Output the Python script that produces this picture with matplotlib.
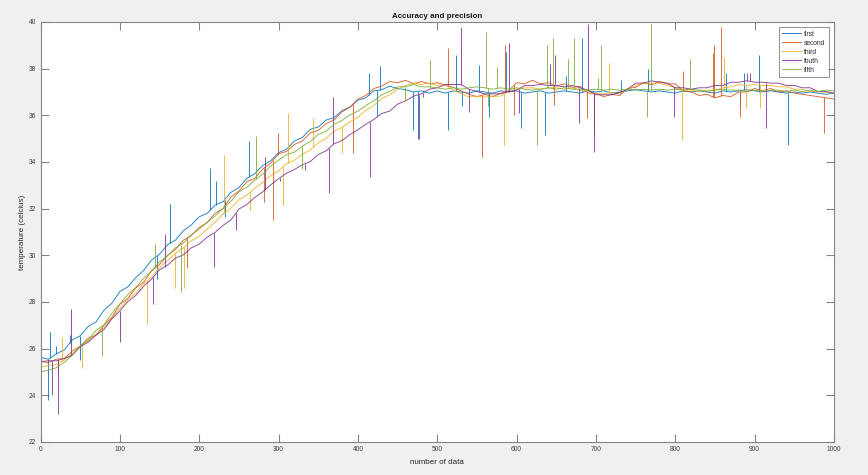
import numpy as np
import matplotlib
matplotlib.use("Agg")
import matplotlib.pyplot as plt

plt.rcParams['font.family'] = ['Liberation Sans', 'DejaVu Sans']

# ---------------- data ----------------
sample_x = list(range(0, 1001, 10))

first = [25.62, 25.55, 25.78, 25.95, 26.38, 26.55, 26.95, 27.15, 27.65, 27.95,
         28.45, 28.65, 29.05, 29.35, 29.80, 30.05, 30.45, 30.65, 31.05, 31.30,
         31.65, 31.80, 32.15, 32.30, 32.70, 32.90, 33.30, 33.50, 33.85, 34.05,
         34.40, 34.55, 34.90, 35.05, 35.40, 35.50, 35.80, 35.90, 36.20, 36.35,
         36.65, 36.75, 37.05, 37.10, 37.25, 37.15, 37.10, 37.00, 37.05, 36.95,
         37.05, 36.95, 37.05, 37.00, 36.95, 37.05, 37.00, 36.95, 37.05, 37.00,
         37.05, 36.95, 37.00, 37.05, 36.95, 37.00, 37.05, 37.00, 36.95, 37.05,
         37.00, 37.05, 36.95, 37.00, 37.05, 37.10, 37.05, 37.00, 37.05, 37.00,
         36.95, 37.05, 37.00, 37.05, 37.00, 36.95, 37.05, 37.00, 37.05, 37.10,
         37.05, 37.00, 37.05, 37.00, 36.95, 37.00, 36.95, 37.00, 36.95, 36.90,
         36.95]

second = [25.45, 25.40, 25.55, 25.58, 25.90, 26.10, 26.45, 26.58, 27.00, 27.35,
          27.90, 28.15, 28.60, 28.85, 29.35, 29.60, 30.00, 30.25, 30.65, 30.85,
          31.20, 31.40, 31.80, 32.00, 32.50, 32.75, 33.15, 33.30, 33.70, 33.95,
          34.35, 34.45, 34.75, 34.90, 35.25, 35.35, 35.65, 35.80, 36.15, 36.35,
          36.70, 36.85, 37.15, 37.25, 37.45, 37.40, 37.50, 37.35, 37.45, 37.35,
          37.40, 37.30, 37.20, 37.05, 36.90, 36.80, 36.90, 36.80, 36.95, 37.05,
          37.40, 37.35, 37.50, 37.35, 37.40, 37.25, 37.35, 37.20, 37.25, 36.95,
          36.95, 36.80, 36.90, 36.85, 37.15, 37.20, 37.40, 37.30, 37.45, 37.35,
          37.35, 37.05, 37.00, 36.85, 36.90, 36.75, 36.85, 36.80, 37.00, 37.00,
          37.15, 37.05, 37.15, 37.00, 37.05, 36.95, 36.90, 36.85, 36.80, 36.75,
          36.70]

third = [25.20, 25.28, 25.32, 25.52, 25.78, 26.12, 26.32, 26.62, 26.88, 27.32,
         27.72, 28.12, 28.38, 28.78, 29.08, 29.48, 29.78, 30.08, 30.32, 30.62,
         30.82, 31.12, 31.42, 31.78, 32.02, 32.38, 32.58, 32.88, 33.12, 33.42,
         33.62, 33.92, 34.08, 34.32, 34.52, 34.82, 35.02, 35.32, 35.48, 35.72,
         35.92, 36.22, 36.42, 36.72, 36.88, 37.12, 37.28, 37.38, 37.32, 37.38,
         37.28, 37.32, 37.08, 36.92, 36.78, 36.82, 36.78, 36.82, 36.82, 37.02,
         37.12, 37.18, 37.18, 37.12, 37.18, 37.18, 37.12, 37.18, 37.08, 37.02,
         36.92, 36.92, 36.98, 36.92, 37.12, 37.28, 37.38, 37.38, 37.38, 37.28,
         37.18, 37.08, 37.08, 37.02, 37.08, 37.08, 37.18, 37.22, 37.32, 37.28,
         37.32, 37.28, 37.28, 37.22, 37.22, 37.12, 37.12, 37.02, 37.02, 36.98,
         36.95]

fouth = [25.45, 25.48, 25.48, 25.58, 25.72, 26.08, 26.28, 26.58, 26.82, 27.28,
         27.62, 28.02, 28.28, 28.68, 28.98, 29.38, 29.58, 29.88, 30.02, 30.32,
         30.48, 30.78, 30.98, 31.28, 31.52, 31.98, 32.18, 32.48, 32.72, 33.02,
         33.28, 33.52, 33.68, 33.88, 34.02, 34.32, 34.48, 34.78, 34.92, 35.18,
         35.38, 35.62, 35.82, 36.08, 36.18, 36.48, 36.62, 36.82, 36.92, 37.12,
         37.18, 37.32, 37.32, 37.32, 37.12, 37.02, 36.92, 36.92, 36.92, 37.02,
         37.08, 37.28, 37.28, 37.32, 37.28, 37.28, 37.22, 37.28, 37.18, 37.08,
         36.88, 36.88, 36.88, 36.98, 37.12, 37.38, 37.38, 37.48, 37.42, 37.38,
         37.18, 37.18, 37.12, 37.18, 37.18, 37.28, 37.28, 37.42, 37.42, 37.48,
         37.42, 37.42, 37.38, 37.38, 37.28, 37.28, 37.18, 37.18, 37.02, 37.02,
         36.95]

fifth = [25.00, 25.08, 25.18, 25.42, 25.72, 26.12, 26.38, 26.78, 27.02, 27.52,
         27.92, 28.32, 28.62, 29.02, 29.32, 29.72, 29.98, 30.32, 30.52, 30.88,
         31.12, 31.42, 31.68, 32.02, 32.32, 32.72, 32.92, 33.22, 33.48, 33.82,
         34.08, 34.32, 34.42, 34.68, 34.88, 35.18, 35.32, 35.62, 35.78, 36.02,
         36.18, 36.42, 36.62, 36.88, 37.02, 37.22, 37.22, 37.32, 37.22, 37.22,
         37.18, 37.12, 37.18, 37.12, 37.18, 37.22, 37.18, 37.12, 37.18, 37.12,
         37.18, 37.12, 37.08, 37.12, 37.18, 37.12, 37.18, 37.12, 37.12, 37.08,
         37.12, 37.08, 37.12, 37.08, 37.12, 37.08, 37.12, 37.08, 37.12, 37.08,
         37.12, 37.08, 37.12, 37.08, 37.02, 37.08, 37.12, 37.08, 37.08, 37.02,
         37.08, 37.02, 37.08, 37.08, 37.02, 37.08, 37.02, 37.08, 37.02, 37.08,
         37.05]

# single-sample outliers (sample index, reading)
first_spike_x = [10, 12, 19, 37, 50, 147, 163, 214, 221, 232, 263, 414, 424, 428,
                 470, 476, 514, 523, 531, 553, 565, 587, 606, 636, 662, 683, 731,
                 765, 864, 881, 887, 906, 942]
first_spike_y = [23.8, 26.7, 26.1, 26.6, 25.5, 29.0, 32.2, 33.73, 33.2, 31.65, 34.9,
                 37.8, 35.95, 38.1, 35.37, 35.0, 35.37, 38.6, 36.4, 38.17, 35.94,
                 38.7, 35.44, 35.16, 37.7, 39.3, 37.5, 38.0, 37.8, 36.3, 37.8, 38.6,
                 34.73]

second_spike_x = [22, 185, 282, 293, 299, 394, 513, 556, 586, 597, 647, 689, 698,
                  810, 847, 849, 858, 882, 987]
second_spike_y = [25.0, 29.45, 32.3, 31.5, 35.23, 34.4, 38.9, 34.23, 39.0, 36.0,
                  36.44, 35.87, 35.16, 37.9, 38.66, 39.0, 39.8, 35.94, 35.23]

third_spike_x = [27, 52, 134, 170, 181, 231, 264, 306, 312, 344, 380, 584, 717,
                 809, 861, 889, 907]
third_spike_y = [26.5, 25.15, 27.05, 28.6, 28.6, 34.3, 31.95, 32.15, 36.1, 35.9,
                 34.37, 34.73, 38.23, 34.94, 38.5, 36.3, 36.3]

fouth_spike_x = [15, 22, 38, 100, 142, 157, 219, 246, 283, 302, 333, 364, 369,
                 415, 477, 482, 530, 540, 590, 603, 642, 648, 679, 690, 697, 798,
                 890, 894, 914]
fouth_spike_y = [24.0, 23.2, 27.7, 26.3, 27.9, 30.9, 29.5, 31.1, 34.23, 33.2, 33.65,
                 32.65, 36.8, 33.35, 35.0, 36.8, 39.8, 36.16, 39.09, 36.1, 38.2,
                 38.6, 35.66, 39.9, 34.44, 35.94, 37.8, 37.8, 35.45]

fifth_spike_x = [78, 144, 177, 272, 330, 459, 491, 561, 564, 575, 626, 638, 646,
                 665, 672, 703, 707, 764, 770, 818]
fifth_spike_y = [25.7, 30.5, 28.43, 35.1, 33.7, 36.66, 38.37, 39.58, 36.4, 38.08,
                 34.73, 39.0, 39.3, 38.4, 39.3, 37.6, 39.0, 35.94, 39.9, 38.4]

series_names = ['first', 'second', 'third', 'fouth', 'fifth']
x_ticks = list(range(0, 1001, 100))
y_ticks = list(range(22, 41, 2))

# ---------------- plot ----------------
colors = ['#0072BD', '#D95319', '#EDB120', '#7E2F8E', '#77AC30']
series = [first, second, third, fouth, fifth]
spikes = [(first_spike_x, first_spike_y), (second_spike_x, second_spike_y),
          (third_spike_x, third_spike_y), (fouth_spike_x, fouth_spike_y),
          (fifth_spike_x, fifth_spike_y)]

fig = plt.figure(figsize=(8.68, 4.75), dpi=100, facecolor='#F0F0F0')
ax = fig.add_axes([0.0467, 0.0695, 0.9141, 0.8842])
ax.set_facecolor('white')

xs = np.array(sample_x, dtype=float)
for name, vals, (sx, sy), c in zip(series_names, series, spikes, colors):
    vals = np.array(vals, dtype=float)
    ax.plot(xs, vals, color=c, lw=0.65, alpha=0.9, label=name)
    sx = np.array(sx, dtype=float)
    base = np.interp(sx, xs, vals)
    ax.vlines(sx, base, sy, colors=c, lw=0.65, alpha=0.9)

ax.set_xlim(0, 1000)
ax.set_ylim(22, 40)
ax.set_xticks(x_ticks)
ax.set_yticks(y_ticks)

edge = '#858585'
for s in ax.spines.values():
    s.set_color(edge)
    s.set_linewidth(0.8)
ax.tick_params(direction='in', length=5.5, width=0.8, color=edge,
               labelsize=4.8, labelcolor='#404040', top=True, right=True,
               pad=3)

ax.set_title('Accuracy and precision', fontsize=5.8, fontweight='bold',
             color='#1a1a1a', pad=3)
ax.set_xlabel('number of data', fontsize=5.8, color='#262626', labelpad=4)
ax.set_ylabel('temperature (celcius)', fontsize=5.8, color='#262626', labelpad=2)

leg = ax.legend(loc='upper right', fontsize=4.8, frameon=True, fancybox=False,
                handlelength=2.8, labelspacing=0.3, borderaxespad=0.8,
                borderpad=0.5, handletextpad=0.5)
leg.get_frame().set_edgecolor('#7f7f7f')
leg.get_frame().set_linewidth(0.8)
for t in leg.get_texts():
    t.set_color('#262626')

fig.savefig('out.png', dpi=100, facecolor=fig.get_facecolor())
